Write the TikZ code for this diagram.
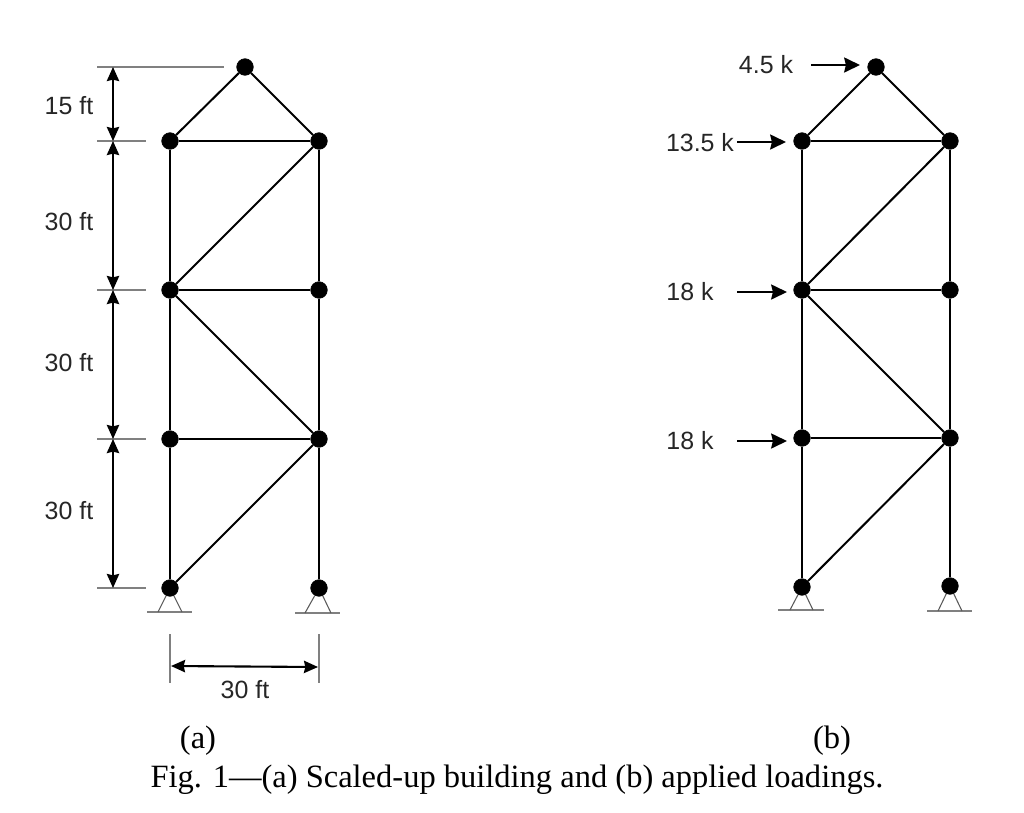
\documentclass[tikz,border=0pt]{standalone}
\usepackage{fontspec}
\setmainfont{Liberation Serif}
\setsansfont{Liberation Sans}
\usetikzlibrary{arrows.meta}
\tikzset{
  joint/.style={draw,black,fill=black,circle,inner sep=0pt,minimum size=9.4pt},
  member/.style={line width=1.15pt,black},
  guide/.style={line width=.8pt,black!50},
  pin/.style={line width=.6pt,black!65},
  dim/.style={line width=1.2pt,black,{Stealth[length=\l,width=\w,inset=.8pt]}-{Stealth[length=\l,width=\w,inset=.8pt]}},
  load/.style={line width=1.4pt,black,-{Stealth[length=\ll,width=\lw,inset=1pt]}},
  lbl/.style={font=\sffamily\fontsize{14.2}{16}\selectfont,text=black!85,inner sep=0pt},
  caption/.style={font=\fontsize{18.5}{21}\selectfont,inner sep=0pt}
}
\begin{document}
\begin{tikzpicture}[x=0.02cm,y=-0.02cm]
\def\l{8pt}
\def\w{7pt}
\def\ll{9pt}
\def\lw{8.5pt}
\useasboundingbox (0,0) rectangle (1024,812);
% frame (a)
\node [joint, name=a0]      at (245,67) {};
\node [joint, name=a1]      at (170,141) {};
\node [joint, name=a2]      at (319,141) {};
\node [joint, name=a3]      at (170,290) {};
\node [joint, name=a4]      at (319,290) {};
\node [joint, name=a5]      at (170,439) {};
\node [joint, name=a6]      at (319,439) {};
\node [joint, name=a7]      at (170,588) {};
\node [joint, name=a8]      at (319,588) {};
\draw [member](a0) to (a1);
\draw [member](a0) to (a2);
\draw [member](a1) to (a2);
\draw [member](a1) to (a3);
\draw [member](a2) to (a4);
\draw [member](a2) to (a3);
\draw [member](a3) to (a4);
\draw [member](a3) to (a5);
\draw [member](a4) to (a6);
\draw [member](a3) to (a6);
\draw [member](a5) to (a6);
\draw [member](a5) to (a7);
\draw [member](a6) to (a8);
\draw [member](a6) to (a7);
% supports (a)
\coordinate (p1) at (147,612);
\coordinate (p2) at (192,612);
\coordinate (p3) at (158,612);
\coordinate (p4) at (182,612);
\coordinate (p5) at (295,613);
\coordinate (p6) at (340,613);
\coordinate (p7) at (305,613);
\coordinate (p8) at (331,613);
\draw [guide](p1) to (p2);
\draw [guide](p5) to (p6);
\draw [pin](a7) to (p3);
\draw [pin](a7) to (p4);
\draw [pin](a8) to (p7);
\draw [pin](a8) to (p8);
% dimensions
\coordinate (g0) at (97,67);
\coordinate (g1) at (97,141);
\coordinate (g2) at (97,290);
\coordinate (g3) at (97,439);
\coordinate (g4) at (97,588);
\coordinate (h0) at (224,67);
\coordinate (h1) at (146,141);
\coordinate (h2) at (146,290);
\coordinate (h3) at (146,439);
\coordinate (h4) at (146,588);
\draw [guide](g0) to (h0);
\draw [guide](g1) to (h1);
\draw [guide](g2) to (h2);
\draw [guide](g3) to (h3);
\draw [guide](g4) to (h4);
\coordinate (m0) at (113,67);
\coordinate (m1) at (113,141);
\coordinate (m2) at (113,290);
\coordinate (m3) at (113,439);
\coordinate (m4) at (113,588);
\draw [dim](m0) to (m1);
\draw [dim](m1) to (m2);
\draw [dim](m2) to (m3);
\draw [dim](m3) to (m4);
\node [lbl, name=t1]      at (69,106) {15 ft};
\node [lbl, name=t2]      at (69,222) {30 ft};
\node [lbl, name=t3]      at (69,363) {30 ft};
\node [lbl, name=t4]      at (69,511) {30 ft};
\coordinate (v1) at (170,634);
\coordinate (v2) at (170,683);
\coordinate (v3) at (319,634);
\coordinate (v4) at (319,683);
\coordinate (m5) at (171,666);
\coordinate (m6) at (318,667);
\draw [guide](v1) to (v2);
\draw [guide](v3) to (v4);
\draw [dim](m5) to (m6);
\node [lbl, name=t5]      at (245,690) {30 ft};
% frame (b)
\node [joint, name=b0]      at (876,67) {};
\node [joint, name=b1]      at (802,141) {};
\node [joint, name=b2]      at (950,141) {};
\node [joint, name=b3]      at (802,290) {};
\node [joint, name=b4]      at (950,290) {};
\node [joint, name=b5]      at (802,438) {};
\node [joint, name=b6]      at (950,438) {};
\node [joint, name=b7]      at (802,587) {};
\node [joint, name=b8]      at (950,586) {};
\draw [member](b0) to (b1);
\draw [member](b0) to (b2);
\draw [member](b1) to (b2);
\draw [member](b1) to (b3);
\draw [member](b2) to (b4);
\draw [member](b2) to (b3);
\draw [member](b3) to (b4);
\draw [member](b3) to (b5);
\draw [member](b4) to (b6);
\draw [member](b3) to (b6);
\draw [member](b5) to (b6);
\draw [member](b5) to (b7);
\draw [member](b6) to (b8);
\draw [member](b6) to (b7);
% supports (b)
\coordinate (q1) at (778,610);
\coordinate (q2) at (824,610);
\coordinate (q3) at (790,610);
\coordinate (q4) at (813,610);
\coordinate (q5) at (927,611);
\coordinate (q6) at (972,611);
\coordinate (q7) at (938,611);
\coordinate (q8) at (962,611);
\draw [guide](q1) to (q2);
\draw [guide](q5) to (q6);
\draw [pin](b7) to (q3);
\draw [pin](b7) to (q4);
\draw [pin](b8) to (q7);
\draw [pin](b8) to (q8);
% loads
\coordinate (f1) at (811,65);
\coordinate (f2) at (860,65);
\coordinate (f3) at (737,142);
\coordinate (f4) at (786,142);
\coordinate (f5) at (737,292);
\coordinate (f6) at (787,292);
\coordinate (f7) at (737,441);
\coordinate (f8) at (787,441);
\draw [load](f1) to (f2);
\draw [load](f3) to (f4);
\draw [load](f5) to (f6);
\draw [load](f7) to (f8);
\node [lbl, name=k1]      at (766,65) {4.5 k};
\node [lbl, name=k2]      at (700,143) {13.5 k};
\node [lbl, name=k3]      at (690,292) {18 k};
\node [lbl, name=k4]      at (690,441) {18 k};
% captions
\node [caption, name=c1]      at (198,741) {(a)};
\node [caption, name=c2]      at (832,741) {(b)};
\node [caption, name=c3]      at (517,780) {Fig. 1---(a) Scaled-up building and (b) applied loadings.};
\end{tikzpicture}
\end{document}
